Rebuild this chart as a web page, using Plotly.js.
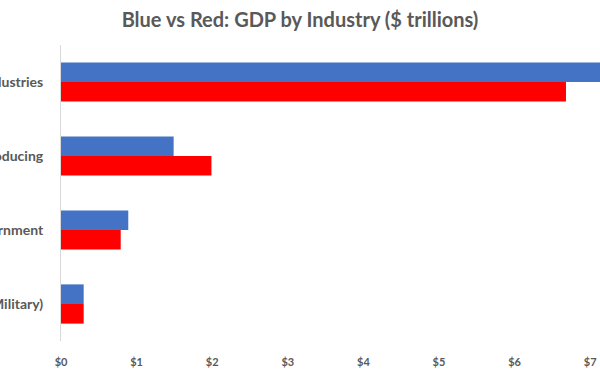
<!DOCTYPE html>
<html>
<head>
<meta charset="utf-8">
<script src="https://cdn.plot.ly/plotly-3.0.1.min.js"></script>
<style>
html, body { margin: 0; padding: 0; overflow: hidden; width: 600px; height: 392px; background: #fff; }
#plot { position: absolute; left: -200px; top: 0; width: 800px; height: 392px; }
</style>
</head>
<body>
<div id="plot"></div>
<script>
const categories = ["Private Industries", "Goods Producing", "Government", "Federal (Military)"];
const blueValues = [7.45, 1.49, 0.89, 0.30];
const redValues = [6.68, 1.99, 0.79, 0.30];
const tickValues = [0, 1, 2, 3, 4, 5, 6, 7];
const tickLabels = ["$0", "$1", "$2", "$3", "$4", "$5", "$6", "$7"];

const gray = "#595959";
const font = "Lato, 'Open Sans', sans-serif";

const traces = [
  { type: "bar", orientation: "h", name: "Blue", y: categories, x: blueValues,
    marker: { color: "#4472C4" }, hoverinfo: "x+y" },
  { type: "bar", orientation: "h", name: "Red", y: categories, x: redValues,
    marker: { color: "#FF0000" }, hoverinfo: "x+y" }
];

const layout = {
  width: 800, height: 392,
  margin: { l: 261, r: 0, t: 45, b: 51, pad: 0 },
  paper_bgcolor: "#fff", plot_bgcolor: "#fff",
  barmode: "group", bargap: 0.47, bargroupgap: 0,
  showlegend: false,
  title: {
    text: "<b>Blue vs Red: GDP by Industry ($ trillions)</b>",
    font: { family: font, size: 20, color: gray },
    xref: "container", x: 0.625, xanchor: "center",
    yref: "container", y: 1 - 20 / 392, yanchor: "middle"
  },
  xaxis: {
    range: [0, 7.13], tickvals: tickValues, ticktext: tickLabels,
    showgrid: false, zeroline: false, showline: false, ticks: "",
    ticklabelstandoff: 13,
    tickfont: { family: font, size: 11, color: gray, weight: "bold" },
    fixedrange: true
  },
  yaxis: {
    autorange: "reversed", type: "category",
    showgrid: false, zeroline: false, showline: true, linecolor: "#d9d9d9", linewidth: 1,
    ticks: "", ticklabelstandoff: 14,
    tickfont: { family: font, size: 14, color: gray, weight: "bold" },
    fixedrange: true
  }
};

Plotly.newPlot("plot", traces, layout, { displayModeBar: false, staticPlot: true });
</script>
</body>
</html>
